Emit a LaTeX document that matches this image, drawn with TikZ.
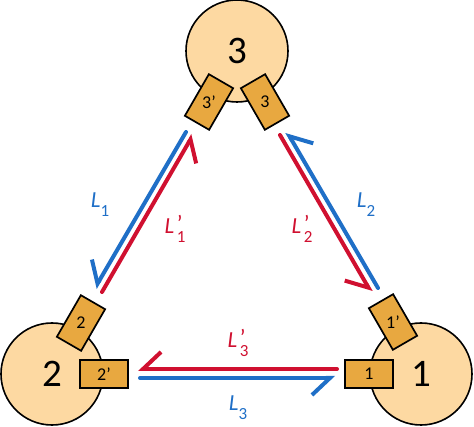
\documentclass[tikz,border=0pt]{standalone}
\usepackage{fontspec}
\setmainfont{Carlito}
\usetikzlibrary{arrows.meta}
\definecolor{lblue}{RGB}{31,111,199}
\definecolor{lred}{RGB}{208,16,48}
\definecolor{cfill}{RGB}{253,217,162}
\definecolor{bfill}{RGB}{232,168,64}
\newcommand{\lsub}[1]{\raisebox{-9pt}{\fontsize{17}{17}\selectfont #1}}
\newcommand{\lprm}[1]{\kern2.5pt\rlap{\raisebox{2pt}{'}}\raisebox{-9pt}{\fontsize{17}{17}\selectfont #1}}
\tikzset{
  station/.style={circle, draw=black, line width=1.6pt, fill=cfill, minimum size=102pt, inner sep=0pt, font=\fontsize{39}{39}\selectfont},
  portbox/.style={draw=black, line width=1.7pt, fill=bfill, minimum width=28pt, minimum height=48pt, inner sep=0pt},
  porthbox/.style={draw=black, line width=1.7pt, fill=bfill, minimum width=48pt, minimum height=28pt, inner sep=0pt},
  porttext/.style={font=\fontsize{18}{18}\selectfont, inner sep=0pt},
  bluearr/.style={draw=lblue, line width=4pt, line cap=round, -{Straight Barb[right, length=18pt, width=34pt]}},
  redarr/.style={draw=lred, line width=4pt, line cap=round, -{Straight Barb[right, length=18pt, width=34pt]}},
  bluelab/.style={text=lblue, font=\fontsize{23}{23}\selectfont, inner sep=0pt},
  redlab/.style={text=lred, font=\fontsize{23}{23}\selectfont, inner sep=0pt},
}
\begin{document}
\begin{tikzpicture}[x=1pt,y=-1pt]
\useasboundingbox (0,0) rectangle (474,427);
% stations
\node[station] (s3) at (237,51) {3};
\node[station] (s2) at (52,374) {2};
\node[station] (s1) at (421,374) {1};
% ports
\node[portbox, rotate=-30] (p3a) at (209,102) {};
\node[porttext] at (p3a.center) {3'};
\node[portbox, rotate=30] (p3) at (265,102) {};
\node[porttext] at (p3.center) {3};
\node[portbox, rotate=-30] (p2) at (81,323) {};
\node[porttext] at (p2.center) {2};
\node[porthbox] (p2a) at (104,374) {};
\node[porttext] at (p2a.center) {2'};
\node[porthbox] (p1) at (369,374) {};
\node[porttext] at (p1.center) {1};
\node[portbox, rotate=30] (p1a) at (393,322) {};
\node[porttext] at (p1a.center) {1'};
% arrow end points
\coordinate (l1s) at (186,132);
\coordinate (l1e) at (95,288);
\coordinate (m1s) at (102,292);
\coordinate (m1e) at (193,135);
\coordinate (l2s) at (378,288);
\coordinate (l2e) at (287,132);
\coordinate (m2s) at (280,135);
\coordinate (m2e) at (371,292);
\coordinate (m3s) at (337,369);
\coordinate (m3e) at (138,369);
\coordinate (l3s) at (140,378);
\coordinate (l3e) at (335,378);
% arrows
\draw[bluearr] (l1s) -- (l1e);
\draw[redarr] (m1s) -- (m1e);
\draw[bluearr] (l2s) -- (l2e);
\draw[redarr] (m2s) -- (m2e);
\draw[redarr] (m3s) -- (m3e);
\draw[bluearr] (l3s) -- (l3e);
% labels
\node[bluelab] (t1) at (100,205) {\textit{L}\lsub{1}};
\node[redlab] (u1) at (175,229) {\textit{L}\lprm{1}};
\node[bluelab] (t2) at (366,205) {\textit{L}\lsub{2}};
\node[redlab] (u2) at (302,229) {\textit{L}\lprm{2}};
\node[redlab] (u3) at (238,343) {\textit{L}\lprm{3}};
\node[bluelab] (t3) at (238,408) {\textit{L}\lsub{3}};
\end{tikzpicture}
\end{document}
